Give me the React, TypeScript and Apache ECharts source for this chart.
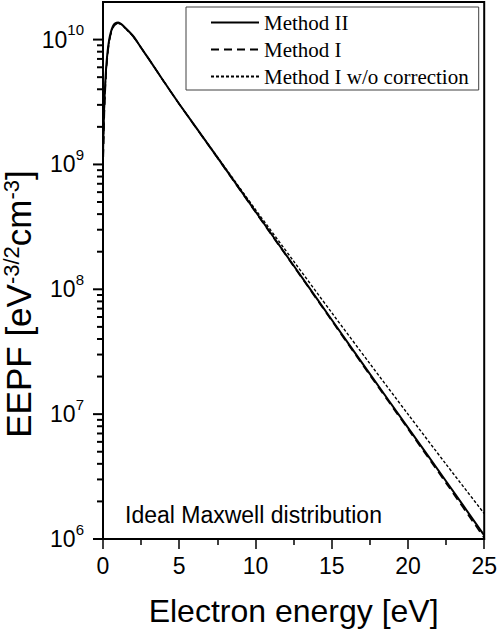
import React, { useEffect, useRef } from "react";
import * as echarts from "echarts";

// Electron energy [eV]
const energy = [0, 0.05, 0.1, 0.2, 0.3, 0.4, 0.5, 0.65, 0.8, 1.0, 1.2, 1.5, 2.0, 2.5, 3, 4, 5, 7.5, 10, 12.5, 15, 17.5, 20, 22.5, 25];
// EEPF [eV^-3/2 cm^-3]
const methodII = [1.2e9, 2.2e9, 3.4e9, 5.8e9, 8.0e9, 9.9e9, 1.13e10, 1.28e10, 1.35e10, 1.37e10, 1.33e10, 1.23e10, 1.06e10, 8.6e9, 7.0e9, 4.6e9, 3.05e9, 1.14e9, 4.2e8, 1.55e8, 5.7e7, 2.1e7, 7.8e6, 2.9e6, 1.07e6];
const methodI = [9.0e8, 1.6e9, 2.8e9, 5.2e9, 7.5e9, 9.4e9, 1.09e10, 1.24e10, 1.32e10, 1.35e10, 1.32e10, 1.22e10, 1.05e10, 8.6e9, 7.0e9, 4.6e9, 3.05e9, 1.13e9, 4.15e8, 1.53e8, 5.6e7, 2.05e7, 7.6e6, 2.8e6, 1.02e6];
const methodINoCorr = [1.1e9, 2.0e9, 3.1e9, 5.5e9, 7.7e9, 9.6e9, 1.1e10, 1.25e10, 1.32e10, 1.34e10, 1.32e10, 1.22e10, 1.05e10, 8.6e9, 7.0e9, 4.6e9, 3.05e9, 1.15e9, 4.35e8, 1.68e8, 6.5e7, 2.54e7, 1.0e7, 3.97e6, 1.6e6];

const seriesNames = ["Method II", "Method I", "Method I w/o correction"];

// y axis ticks
const yMajorTicks = [1e6, 1e7, 1e8, 1e9, 1e10];
const yMinorTicks = [
  2e6, 3e6, 4e6, 5e6, 6e6, 7e6, 8e6, 9e6,
  2e7, 3e7, 4e7, 5e7, 6e7, 7e7, 8e7, 9e7,
  2e8, 3e8, 4e8, 5e8, 6e8, 7e8, 8e8, 9e8,
  2e9, 3e9, 4e9, 5e9, 6e9, 7e9, 8e9, 9e9,
];

const SANS = "'Liberation Sans', Arial, sans-serif";
const SERIF = "'Liberation Serif', 'Times New Roman', serif";

export default function App() {
  const ref = useRef<HTMLDivElement>(null);
  useEffect(() => {
    document.body.style.margin = "0";
    const chart = echarts.init(ref.current!, null, { renderer: "svg" });
    const pair = (ys: number[]) => energy.map((x, i) => [x, ys[i]]);
    const lineBase = {
      type: "line",
      showSymbol: false,
      symbol: "none",
      smooth: 0.3,
      itemStyle: { color: "#000", opacity: 0 },
    };
    chart.setOption({
      animation: false,
      backgroundColor: "#fff",
      grid: {
        left: 103,
        right: 14,
        top: 2,
        bottom: 92,
        show: true,
        borderColor: "#000",
        borderWidth: 2,
      },
      legend: {
        orient: "vertical",
        left: 186,
        top: 7,
        padding: [5, 10, 3, 24],
        itemWidth: 48,
        itemHeight: 14,
        itemGap: 6,
        borderColor: "#404040",
        borderWidth: 1,
        backgroundColor: "#fff",
        itemStyle: { opacity: 0 },
        textStyle: { fontFamily: SERIF, fontSize: 21, color: "#000", lineHeight: 20 },
        data: seriesNames,
      },
      xAxis: {
        type: "value",
        min: 0,
        max: 25,
        interval: 5,
        name: "Electron energy [eV]",
        nameLocation: "middle",
        nameGap: 56,
        nameTextStyle: { fontFamily: SANS, fontSize: 32, color: "#000" },
        axisLine: { lineStyle: { color: "#000", width: 2 } },
        axisTick: { inside: false, length: 10, lineStyle: { color: "#000", width: 1.5 } },
        minorTick: { show: true, splitNumber: 2, length: 6, lineStyle: { color: "#000", width: 1.5 } },
        axisLabel: { margin: 15, fontFamily: SANS, fontSize: 23, color: "#000" },
        splitLine: { show: false },
      },
      yAxis: {
        type: "log",
        logBase: 10,
        min: 1e6,
        max: 2e10,
        axisLine: { lineStyle: { color: "#000", width: 2 } },
        axisTick: { show: false },
        splitLine: { show: false },
        axisLabel: {
          margin: 19,
          formatter: (v: number) => {
            const l = Math.log10(v);
            const e = Math.round(l);
            if (Math.abs(l - e) > 1e-6) return "";
            return `{b|10}{s|${e}}`;
          },
          rich: {
            b: { fontFamily: SANS, fontSize: 23, lineHeight: 35, color: "#000" },
            s: { fontFamily: SANS, fontSize: 15, lineHeight: 15, verticalAlign: "top", color: "#000" },
          },
        },
      },
      series: [
        { ...lineBase, name: seriesNames[0], data: pair(methodII), lineStyle: { color: "#000", width: 2, type: "solid" }, z: 5 },
        { ...lineBase, name: seriesNames[1], data: pair(methodI), lineStyle: { color: "#000", width: 1.6, type: [8, 5] }, z: 4 },
        { ...lineBase, name: seriesNames[2], data: pair(methodINoCorr), lineStyle: { color: "#000", width: 1.4, type: [3, 2] }, z: 3 },
      ],
    });
    // y-axis log ticks (major and minor), positioned through the chart's own scale
    const tickEl = (v: number, len: number, id: string) => {
      const p = chart.convertToPixel({ gridIndex: 0 }, [0, v]) as number[];
      return {
        type: "line",
        id,
        shape: { x1: p[0] - len, y1: p[1], x2: p[0], y2: p[1] },
        style: { stroke: "#000", lineWidth: 2 },
      };
    };
    const ticks = [
      ...yMajorTicks.map((v, i) => tickEl(v, 10, "maj" + i)),
      ...yMinorTicks.map((v, i) => tickEl(v, 6, "min" + i)),
    ];
    chart.setOption({
      graphic: [
        {
          type: "text",
          id: "yname",
          x: 18,
          y: 304,
          rotation: Math.PI / 2,
          style: {
            text: "{n|EEPF [eV}{s|-3/2}{n|cm}{s|-3}{n|]}",
            align: "center",
            verticalAlign: "middle",
            rich: {
              n: { fontFamily: SANS, fontSize: 35, lineHeight: 35, fill: "#000" },
              s: { fontFamily: SANS, fontSize: 22, lineHeight: 22, verticalAlign: "top", fill: "#000" },
            },
          },
        },
        {
          type: "text",
          id: "note",
          left: 125,
          top: 503,
          style: { text: "Ideal Maxwell distribution", fontFamily: SANS, fontSize: 23, fill: "#000" },
        },
        { type: "text", id: "spacer", left: 150, top: 300, style: { text: " ", fontSize: 14, fill: "#fff" } },
        ...ticks,
      ],
    });
    return () => chart.dispose();
  }, []);
  return <div ref={ref} style={{ width: 500, height: 632 }} />;
}
